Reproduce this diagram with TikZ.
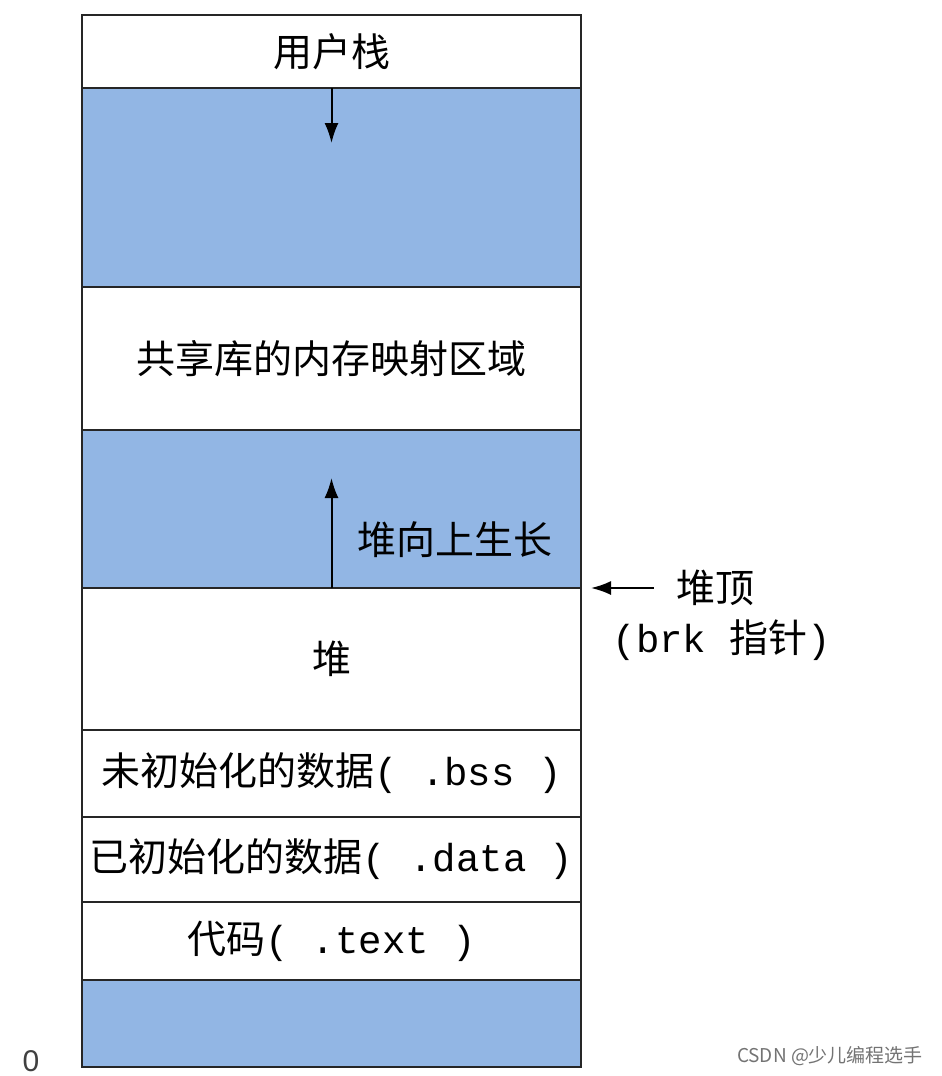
\documentclass[tikz,border=0pt]{standalone}
\usepackage{fontspec}
\setmainfont{Noto Sans CJK SC}
\setmonofont{Liberation Mono}
\newfontfamily\numfont{Liberation Sans}
\usetikzlibrary{positioning, arrows.meta}
\definecolor{memblue}{RGB}{146,182,228}

\begin{document}
\begin{tikzpicture}[x=1pt, y=1pt]
\tikzstyle{seg}=[rectangle, draw=black!85, line width=1.8pt, minimum width=499pt, inner sep=0pt, outer sep=0pt, font=\fontsize{39}{46}\selectfont]
\tikzstyle{gap}=[seg, fill=memblue]
\tikzstyle{connect}=[-{Latex[length=20pt, width=14pt]}, line width=2pt]
\tikzstyle{lbl}=[font=\fontsize{39}{46}\selectfont, inner sep=0pt]
\useasboundingbox (0,0) rectangle (942,-1076);
% 1. Segments
%%%%%%%%%%%%%
\node[seg, minimum height=73pt] (stack) at (331.5,-51.5) {用户栈};
\node[gap, minimum height=199pt] (gapA) [below=0pt of stack] {};
\node[seg, minimum height=143pt] (shlib) [below=0pt of gapA] {共享库的内存映射区域};
\node[gap, minimum height=158pt] (gapB) [below=0pt of shlib] {};
\node[seg, minimum height=142pt] (heap) [below=0pt of gapB] {堆};
\node[seg, minimum height=87pt] (bss) [below=0pt of heap] {未初始化的数据\texttt{( .bss )}};
\node[seg, minimum height=85pt] (data) [below=0pt of bss] {已初始化的数据\texttt{( .data )}};
\node[seg, minimum height=78pt] (text) [below=0pt of data] {代码\texttt{( .text )}};
\node[gap, minimum height=87pt] (gapC) [below=0pt of text] {};
% 2. Labels
%%%%%%%%%%%
\node[lbl] (grow) at (455,-540) {堆向上生长};
\node[lbl] (top) at (715,-588) {堆顶};
\node[lbl] (brk) at (722,-640) {\texttt{(brk }指针\texttt{)}};
\node[font=\numfont\fontsize{30}{34}\selectfont, text=black!75] (zero) at (31,-1061) {0};
\node[font=\fontsize{19}{22}\selectfont, text=black!55] (mark) at (830,-1056) {CSDN @少儿编程选手};
\coordinate (stackTip) at (331.5,-143);
\coordinate (heapTip) at (331.5,-478);
% 3. Arrows
%%%%%%%%%%%
\path (stack.south) edge [connect] (stackTip)
      (heap.north)  edge [connect] (heapTip);
\draw[connect, shorten <=22pt, shorten >=10pt] (top.west) -- (heap.north east);
\end{tikzpicture}
\end{document}
